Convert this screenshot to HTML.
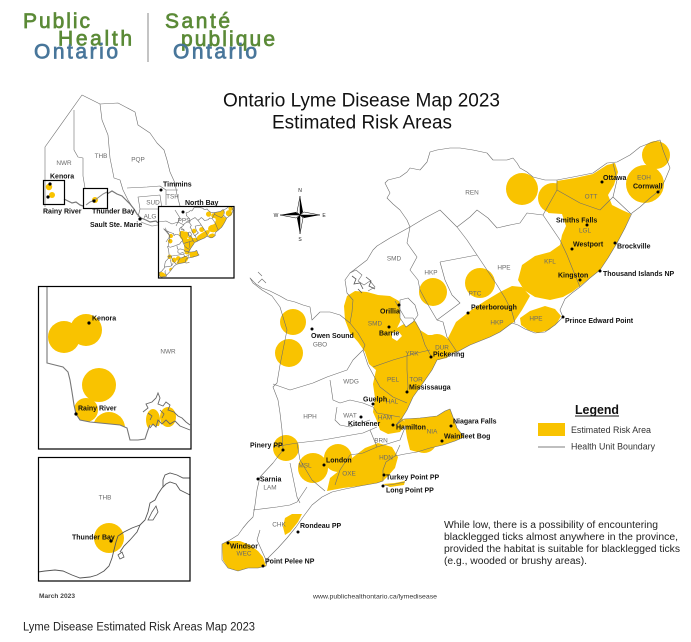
<!DOCTYPE html>
<html>
<head>
<meta charset="utf-8">
<style>
  html,body{margin:0;padding:0;background:#fff;}
  svg{display:block;}
  text{font-family:"Liberation Sans", Arial, sans-serif;}
  .city{font-size:7px;font-weight:bold;fill:#111;}
  .hu{font-size:6.4px;fill:#6a6a6a;text-anchor:middle;}
  .ln{fill:none;stroke:#6e6e6e;stroke-width:0.6;vector-effect:non-scaling-stroke;stroke-linejoin:round;}
  .y{fill:#F9C300;}
</style>
</head>
<body>
<svg width="691" height="642" viewBox="0 0 691 642" xmlns="http://www.w3.org/2000/svg">
<rect width="691" height="642" fill="#fff"/>
<defs>
  <clipPath id="boxclip"><rect x="158" y="206" width="76" height="72"/></clipPath>
  <g id="geo">
    <g class="y">
      <circle cx="522" cy="189" r="16"/>
      <circle cx="553" cy="198" r="15"/>
      <path d="M557,181 L575,178 L593,174 L607,165 L615,163 L618,172 L614,185 L608,195 L612,205 L622,210 L631,214 L625,228 L617,243 L608,258 L600,270 L590,278 L580,286 L572,292 L563,297 L550,300 L535,297 L524,290 L518,280 L522,265 L535,256 L550,252 L560,245 L562,235 L566,226 L562,214 L548,213 Z"/>
      <circle cx="656" cy="155" r="14"/>
      <circle cx="645" cy="184" r="19"/>
      <path d="M520,318 L530,311 L545,306 L555,309 L561,316 L557,323 L549,330 L538,333 L528,330 L521,325 Z"/>
      <path d="M449,353 L448,338 L456,322 L470,311 L485,301 L500,292 L512,286 L522,287 L530,296 L522,310 L514,322 L500,332 L490,337 L470,345 L457,352 Z"/>
      <circle cx="433" cy="292" r="14"/>
      <circle cx="480" cy="283" r="15"/>
      <path d="M347,296 L355,291 L367,292 L378,295 L390,296 L399,301 L403,311 L400,322 L397,328 L404,324 L410,318 L416,322 L420,330 L428,335 L440,335 L450,340 L453,350 L447,358 L437,360 L432,370 L423,383 L413,397 L407,410 L402,418 L406,424 L400,432 L388,434 L380,430 L377,421 L373,412 L375,398 L373,384 L376,370 L369,364 L365,352 L358,342 L350,333 L345,320 L344,306 Z"/>
      <circle cx="437" cy="347" r="13"/>
      <circle cx="385" cy="312" r="15"/>
      <circle cx="381" cy="350" r="14"/>
      <path d="M404,419 L420,418 L437,416 L445,411 L450,409 L453,417 L457,428 L464,437 L455,441 L443,445 L430,448 L417,452 L410,450 L407,438 Z"/>
      <circle cx="424" cy="440" r="13"/>
      <circle cx="313" cy="468" r="15"/>
      <circle cx="338" cy="458" r="14"/>
      <path d="M327,491 L330,478 L340,470 L352,458 L365,448 L378,443 L392,447 L398,457 L395,468 L388,476 L383,481 L377,483 L360,486 L343,488 Z"/>
      <circle cx="286" cy="448" r="13"/>
      <circle cx="293" cy="322" r="13"/>
      <circle cx="289" cy="353" r="14"/>
      <path d="M283,527 L285,518 L292,514 L302,514 L298,522 L290,532 L285,535 Z"/>
      <path d="M222,544 L228,541 L240,541 L250,545 L258,551 L263,557 L266,566 L258,568 L248,568 L238,571 L228,568 L223,560 Z"/>
      <path d="M383,484 L395,483 L405,481 L404,485 L390,487 Z"/>
    </g>
    <path d="M400,300 L408,298 L415,305 L418,315 L413,322 L406,327 L400,318 Z" class="ln" style="fill:#fff"/>
    <path d="M392,333 L398,331 L402,336 L397,341 L392,338 Z" fill="#fff"/>
    <path class="ln" d="M410,227 L390,238 L377,246 L373,250 L367,260 L350,273 L345,280 L347,293 L353,300 L352,312 L350,323 L340,315 L330,312 L320,312 L317,315 L312,320 L310,307 L303,305 L295,302 L287,300 L280,296 L270,291 L262,288 L256,284 L250,278 L253,283 L262,290 L272,296 L280,307 L287,330 L283,350 L280,365 L277,383 L273,387 L278,400 L280,413 L282,430 L283,450 L273,463 L260,477 L257,490 L255,505 L253,517 L248,522 L243,528 L238,535 L230,540 L222,544 L222,560 L228,568 L238,571 L248,568 L258,568 L266,566 L268,558 L278,548 L287,538 L296,527 L303,517 L312,505 L322,497 L332,492 L345,489 L360,486 L377,483 L383,481 L383,470 L386,462 L395,456 L405,454 L417,452 L430,448 L443,445 L455,441 L464,437 L457,428 L453,417 L450,409 L445,411 L437,416 L420,418 L404,419 L396,425 L402,418 L407,410 L413,397 L423,383 L432,370 L437,360 L447,357 L457,352 L470,345 L490,337 L500,332 L512,323 L518,325 L525,329 L535,333 L545,332 L555,325 L563,317 L560,310 L565,299 L572,293 L580,287 L590,278 L600,270 L608,258 L617,243 L625,228 L632,213 L640,207 L650,198 L660,190 L665,180 L670,168 L663,150 L660,140 L650,143 L640,147 L630,155 L617,162 L607,163 L593,173 L573,177 L557,180 L545,180 L533,177 L527,172 L520,168 L517,163 L513,158 L507,160 L493,160 L487,153 L473,150 L460,148 L450,148 L437,150 L430,152 L427,162 L420,170 L410,168 L407,172 L400,177 L388,180 L385,183 L390,193 L387,198 L393,204 L400,210 L407,220 L410,227"/>
    <path class="ln" d="M383,486 L395,484 L405,482"/>
    <path class="ln" d="M350,273 L356,270 L362,275 L358,281 L364,285 L370,281 L375,287 L368,291"/>
    <path d="M352,276 L356,279 L354,284 L360,283 L363,289 M366,277 L371,281 L369,286 L375,289 M358,289 L362,293" fill="none" stroke="#555" stroke-width="0.8"/>
    <path class="ln" d="M258,283 L262,279 L266,283 M262,276 L258,272"/>
    <path class="ln" d="M410,227 L425,218 L440,210 L457,227 L470,217 L477,210 L488,218 L497,228 L510,225 L520,223 L527,213 L543,215 L557,190 L557,180"/>
    <path class="ln" d="M410,227 L407,243 L417,257 L410,270 L418,280 L420,290 L427,303 L437,320 L443,322 L447,337 L457,352"/>
    <path class="ln" d="M457,227 L467,240 L477,255 L487,270 L497,285 L505,298 L512,312 L515,323"/>
    <path class="ln" d="M440,262 L477,255"/>
    <path class="ln" d="M440,262 L445,280 L452,295 L460,303 L437,320"/>
    <path class="ln" d="M543,215 L560,240 L567,255 L573,270 L580,287"/>
    <path class="ln" d="M557,190 L580,203 L600,210 L613,197 L631,214"/>
    <path class="ln" d="M613,163 L617,180 L613,197"/>
    <path class="ln" d="M395,301 L405,318 L413,318 L420,330 L425,345 L432,358"/>
    <path class="ln" d="M373,367 L393,360 L417,353 L430,350"/>
    <path class="ln" d="M407,355 L407,370 L408,387 L407,393"/>
    <path class="ln" d="M380,387 L393,397 L407,403"/>
    <path class="ln" d="M377,413 L400,417"/>
    <path class="ln" d="M350,323 L358,333 L365,345 L363,350"/>
    <path class="ln" d="M273,384 L290,390 L313,383 L327,377 L347,370 L353,360 L363,350"/>
    <path class="ln" d="M330,380 L333,400 L340,403 L350,400 L363,403 L373,407 L377,413"/>
    <path class="ln" d="M337,407 L335,420 L340,425 L350,427 L370,420"/>
    <path class="ln" d="M363,350 L368,365 L375,378 L380,387"/>
    <path class="ln" d="M323,440 L340,437 L363,433 L377,427"/>
    <path class="ln" d="M370,430 L377,447 L363,453 L350,455"/>
    <path class="ln" d="M377,447 L400,440 L404,430"/>
    <path class="ln" d="M273,447 L297,443 L323,440"/>
    <path class="ln" d="M290,463 L297,497 L300,503"/>
    <path class="ln" d="M297,443 L300,460 L312,480 L325,491"/>
    <path class="ln" d="M350,455 L340,470 L335,485"/>
    <path class="ln" d="M253,510 L277,507 L290,505 L297,502 L307,487"/>
    <path class="ln" d="M260,530 L257,540 L266,560"/>
    <path class="ln" d="M395,456 L400,445"/>
  </g>
</defs>

<!-- LOGO -->
<g>
  <text x="23" y="28" font-size="21" fill="#5b8a37" stroke="#5b8a37" stroke-width="0.7" textLength="67" lengthAdjust="spacing">Public</text>
  <text x="58" y="45.5" font-size="21" fill="#5b8a37" stroke="#5b8a37" stroke-width="0.7" textLength="74" lengthAdjust="spacing">Health</text>
  <text x="34" y="58.3" font-size="21" fill="#48769a" stroke="#48769a" stroke-width="0.7" textLength="84" lengthAdjust="spacing">Ontario</text>
  <line x1="148" y1="13" x2="148" y2="62" stroke="#888" stroke-width="1"/>
  <text x="165" y="28" font-size="21" fill="#5b8a37" stroke="#5b8a37" stroke-width="0.7" textLength="65" lengthAdjust="spacing">Santé</text>
  <text x="181" y="46" font-size="21" fill="#5b8a37" stroke="#5b8a37" stroke-width="0.7" textLength="94" lengthAdjust="spacing">publique</text>
  <text x="173" y="58.3" font-size="21" fill="#48769a" stroke="#48769a" stroke-width="0.7" textLength="84" lengthAdjust="spacing">Ontario</text>
</g>

<!-- TITLE -->
<text x="361.5" y="106.7" font-size="19" text-anchor="middle" fill="#111" textLength="277" lengthAdjust="spacingAndGlyphs">Ontario Lyme Disease Map 2023</text>
<text x="362" y="128.3" font-size="19" text-anchor="middle" fill="#111" textLength="180" lengthAdjust="spacingAndGlyphs">Estimated Risk Areas</text>

<!-- OVERVIEW MAP -->
<g>
  <path class="ln" d="M45,207 L45,147 L82,95 L100,104 L118,103 L135,112 L138,125 L150,133 L157,143 L164,150 L167,160 L170,172 L175,183 L177,195 L180,206"/>
  <path class="ln" d="M74,110 L74,150 L78,157 L83,158 L83,176 L85,188"/>
  <path class="ln" d="M100,104 L102,120 L108,135 L110,158 L114,178 L120,180 L123,190 L128,200 L133,208"/>
  <path class="ln" d="M127,188 L147,187 L160,186 L166,190 L178,190"/>
  <path class="ln" d="M138,197 L160,195 L162,209 L140,209 Z"/>
  <path class="ln" d="M166,190 L166,205 M140,209 L138,217"/>
  <path d="M64,199 L68,201 L72,203 L76,202 L80,205 L83,206" fill="none" stroke="#777" stroke-width="1.2"/>
  <path d="M107,194 L112,191 L117,194 L122,196 L126,200 L130,204 L134,209 L137,214 L141,218 L146,220 L150,222 L156,221 L158,223" fill="none" stroke="#777" stroke-width="1.2"/>
  <path d="M141,222 L146,224 L152,226 L158,225" fill="none" stroke="#999" stroke-width="0.8"/>
  <circle cx="49" cy="187" r="3.2" class="y"/>
  <circle cx="52" cy="195" r="3" class="y"/>
  <circle cx="95" cy="200" r="3" class="y"/>
  <path d="M86,205 L90,202 L95,200 L99,197 L103,194 L107,192" fill="none" stroke="#888" stroke-width="1"/>
  <rect x="43.5" y="180.5" width="21" height="24" fill="none" stroke="#000" stroke-width="1.2"/>
  <rect x="83.5" y="188.5" width="24" height="20" fill="none" stroke="#000" stroke-width="1.2"/>
  <circle cx="50" cy="184" r="1.6" fill="#000"/>
  <circle cx="48" cy="197" r="1.6" fill="#000"/>
  <circle cx="94" cy="201" r="1.6" fill="#000"/>
  <circle cx="161" cy="190" r="1.5" fill="#000"/>
  <circle cx="140" cy="219" r="1.6" fill="#000"/>
  <rect x="158" y="206" width="76" height="72" fill="#fff"/>
  <g clip-path="url(#boxclip)">
    <use href="#geo" transform="translate(122.5,182.9) scale(0.165)"/>
    <path class="ln" d="M158,222 L166,221 L172,224 L178,222 L184,225 M175,210 L180,218 L176,226 M165,230 L170,236 L166,242"/>
  </g>
  <circle cx="183" cy="212" r="1.5" fill="#000"/>
  <rect x="158.5" y="206.5" width="75.5" height="71.5" fill="none" stroke="#000" stroke-width="1.2"/>
  <text class="hu" x="64" y="165">NWR</text>
  <text class="hu" x="101" y="158">THB</text>
  <text class="hu" x="138" y="161.5">PQP</text>
  <text class="hu" x="153" y="204.5">SUD</text>
  <text class="hu" x="172.5" y="198.5">TSH</text>
  <text class="hu" x="150" y="218.5">ALG</text>
  <text class="hu" x="184" y="222.5">PPS</text>
  <text class="city" x="50" y="178.5">Kenora</text>
  <text class="city" x="163" y="186.5">Timmins</text>
  <text class="city" x="185" y="205">North Bay</text>
  <text class="city" x="43" y="213.5">Rainy River</text>
  <text class="city" x="92" y="213.5">Thunder Bay</text>
  <text class="city" x="90" y="226.8">Sault Ste. Marie</text>
</g>

<!-- KENORA / RAINY RIVER INSET -->
<g>
  <circle cx="64" cy="337" r="16" class="y"/>
  <circle cx="86" cy="330" r="16" class="y"/>
  <circle cx="99" cy="385" r="17" class="y"/>
  <circle cx="86" cy="410" r="12" class="y"/>
  <circle cx="109" cy="428" r="16" class="y"/>
  <ellipse cx="153" cy="420" rx="7" ry="11" class="y"/>
  <ellipse cx="168" cy="417" rx="8" ry="10" class="y"/>
  <path d="M38,286 L47,286 L47,363 L55,365 L63,367 L68,372 L70,380 L72,392 L74,405 L76,414 L80,420 L90,422 L100,423 L110,424 L120,425 L127,428 L130,440 L138,440 L145,439 L148,430 L150,425 L191,430 L191,449 L38,449 Z" fill="#fff"/>
  <path d="M47,286 L47,363 L55,365 L63,367 L68,372 L70,380 L72,392 L74,405 L76,414 L80,420 L90,422 L100,423 L110,424 L120,425 L127,428 L130,440 L138,440 L145,439 L148,430 L150,425" fill="none" stroke="#777" stroke-width="1.1"/>
  <path d="M143,412 L148,408 L146,404 L152,402 L156,398 L158,393 L160,398 L158,404 L163,406 L166,402 L170,405 L168,410 L174,412 L178,416 L182,418 L186,422 L190,425" fill="none" stroke="#666" stroke-width="0.9"/>
  <path d="M150,428 L153,424 L156,427 L158,420 L162,424 L166,420 L170,424 L175,421 L180,426 L185,428 L190,430" fill="none" stroke="#666" stroke-width="0.9"/>
  <path d="M148,413 L152,416 L150,420 M160,410 L164,414 L162,418" fill="none" stroke="#666" stroke-width="0.8"/>
  <rect x="38.5" y="286.5" width="152.5" height="162.5" fill="none" stroke="#000" stroke-width="1.2"/>
  <circle cx="89" cy="323" r="1.6" fill="#000"/>
  <circle cx="76" cy="414" r="1.6" fill="#000"/>
  <text class="city" x="92" y="320.5">Kenora</text>
  <text class="city" x="78" y="410.5">Rainy River</text>
  <text class="hu" x="168" y="353.5">NWR</text>
</g>

<!-- THUNDER BAY INSET -->
<g>
  <circle cx="109" cy="538" r="15" class="y"/>
  <path d="M38,572 L45,571 L55,570 L63,571 L72,575 L80,578 L90,577 L97,575 L104,571 L109,566 L112,558 L114,550 L116,542 L118,536 L124,532 L132,528 L140,525 L137,532 L130,540 L124,546 L120,552" fill="none" stroke="#555" stroke-width="0.9"/>
  <path d="M140,525 L145,520 L148,512 L150,503 L155,500 L158,494 L162,488 L166,484 L170,482 L176,484 L180,490 L186,493 L190,495" fill="none" stroke="#555" stroke-width="0.9"/>
  <path d="M163,487 L163,480 L165,475 L170,473 L177,475 L183,478 L190,478" fill="none" stroke="#555" stroke-width="0.9"/>
  <path d="M148,520 L152,512 L156,506 L158,512 L153,520 Z M118,555 L122,552 L124,557 L120,559 Z" fill="none" stroke="#555" stroke-width="0.8"/>
  <rect x="38.5" y="457.5" width="151.5" height="123.5" fill="none" stroke="#000" stroke-width="1.2"/>
  <circle cx="111" cy="541" r="1.6" fill="#000"/>
  <text class="hu" x="105" y="499.5">THB</text>
  <text class="city" x="72" y="539.5">Thunder Bay</text>
</g>

<!-- MAIN MAP -->
<use href="#geo"/>

<!-- compass -->
<g>
  <polygon points="300,196 303,212 300,215" fill="#000"/>
  <polygon points="300,196 297,212 300,215" fill="#fff" stroke="#000" stroke-width="0.5"/>
  <polygon points="300,234 297,218 300,215" fill="#000"/>
  <polygon points="300,234 303,218 300,215" fill="#fff" stroke="#000" stroke-width="0.5"/>
  <polygon points="320,215 304,218 300,215" fill="#000"/>
  <polygon points="320,215 304,212 300,215" fill="#fff" stroke="#000" stroke-width="0.5"/>
  <polygon points="280,215 296,212 300,215" fill="#000"/>
  <polygon points="280,215 296,218 300,215" fill="#fff" stroke="#000" stroke-width="0.5"/>
  <text x="300" y="192" font-size="5" text-anchor="middle" fill="#222">N</text>
  <text x="300" y="241" font-size="5" text-anchor="middle" fill="#222">S</text>
  <text x="276" y="217" font-size="5" text-anchor="middle" fill="#222">W</text>
  <text x="324" y="217" font-size="5" text-anchor="middle" fill="#222">E</text>
</g>

<!-- HU labels -->
<g>
  <text class="hu" x="472" y="194.5">REN</text>
  <text class="hu" x="591" y="198.3">OTT</text>
  <text class="hu" x="644" y="179.3">EOH</text>
  <text class="hu" x="585" y="232.5">LGL</text>
  <text class="hu" x="550" y="263.3">KFL</text>
  <text class="hu" x="504" y="269.3">HPE</text>
  <text class="hu" x="431" y="274.3">HKP</text>
  <text class="hu" x="475" y="295.5">PTC</text>
  <text class="hu" x="394" y="260.5">SMD</text>
  <text class="hu" x="375" y="325.5">SMD</text>
  <text class="hu" x="497" y="324.3">HKP</text>
  <text class="hu" x="536" y="320.5">HPE</text>
  <text class="hu" x="442" y="349.3">DUR</text>
  <text class="hu" x="412" y="355.5">YRK</text>
  <text class="hu" x="393" y="381.5">PEL</text>
  <text class="hu" x="416" y="381.5">TOR</text>
  <text class="hu" x="392" y="403.5">HAL</text>
  <text class="hu" x="320" y="346.5">GBO</text>
  <text class="hu" x="351" y="383.5">WDG</text>
  <text class="hu" x="310" y="418.5">HPH</text>
  <text class="hu" x="350" y="417.5">WAT</text>
  <text class="hu" x="385" y="419.3">HAM</text>
  <text class="hu" x="381" y="442.5">BRN</text>
  <text class="hu" x="432" y="433.5">NIA</text>
  <text class="hu" x="305" y="467.5">MSL</text>
  <text class="hu" x="349" y="475.5">OXE</text>
  <text class="hu" x="386" y="459.5">HDN</text>
  <text class="hu" x="270" y="489.5">LAM</text>
  <text class="hu" x="279" y="526.5">CHK</text>
  <text class="hu" x="244" y="555.5">WEC</text>
</g>

<!-- city dots -->
<g fill="#000">
  <circle cx="602" cy="182" r="1.5"/><circle cx="658" cy="192" r="1.5"/>
  <circle cx="587" cy="225" r="1.5"/><circle cx="572" cy="249" r="1.5"/>
  <circle cx="615" cy="243" r="1.5"/><circle cx="580" cy="280" r="1.5"/>
  <circle cx="600" cy="271" r="1.5"/><circle cx="468" cy="313" r="1.5"/>
  <circle cx="563" cy="317" r="1.5"/><circle cx="399" cy="305" r="1.5"/>
  <circle cx="389" cy="327" r="1.5"/><circle cx="312" cy="329" r="1.5"/>
  <circle cx="431" cy="357" r="1.5"/><circle cx="407" cy="392" r="1.5"/>
  <circle cx="373" cy="404" r="1.5"/><circle cx="361" cy="417" r="1.5"/>
  <circle cx="393" cy="425" r="1.5"/><circle cx="451" cy="426" r="1.5"/>
  <circle cx="442" cy="441" r="1.5"/><circle cx="283" cy="450" r="1.5"/>
  <circle cx="324" cy="465" r="1.5"/><circle cx="384" cy="475" r="1.5"/>
  <circle cx="383" cy="486" r="1.5"/><circle cx="258" cy="479" r="1.5"/>
  <circle cx="298" cy="532" r="1.5"/><circle cx="228" cy="543" r="1.5"/>
  <circle cx="263" cy="566" r="1.5"/>
</g>

<!-- city labels -->
<g>
  <text class="city" x="603" y="180">Ottawa</text>
  <text class="city" x="633" y="188.5">Cornwall</text>
  <text class="city" x="556" y="222.5">Smiths Falls</text>
  <text class="city" x="573" y="246.5">Westport</text>
  <text class="city" x="617" y="248.5">Brockville</text>
  <text class="city" x="558" y="277.5">Kingston</text>
  <text class="city" x="603" y="276">Thousand Islands NP</text>
  <text class="city" x="471" y="309.5">Peterborough</text>
  <text class="city" x="565" y="323.2">Prince Edward Point</text>
  <text class="city" x="380" y="313.5">Orillia</text>
  <text class="city" x="379" y="335.5">Barrie</text>
  <text class="city" x="311" y="338.2">Owen Sound</text>
  <text class="city" x="433" y="356.5">Pickering</text>
  <text class="city" x="409" y="389.5">Mississauga</text>
  <text class="city" x="363" y="401.5">Guelph</text>
  <text class="city" x="348" y="425.8">Kitchener</text>
  <text class="city" x="396" y="429.5">Hamilton</text>
  <text class="city" x="453" y="423.5">Niagara Falls</text>
  <text class="city" x="444" y="438.5">Wainfleet Bog</text>
  <text class="city" x="250" y="447.5">Pinery PP</text>
  <text class="city" x="326" y="462.5">London</text>
  <text class="city" x="386" y="479.5">Turkey Point PP</text>
  <text class="city" x="386" y="492.5">Long Point PP</text>
  <text class="city" x="260" y="481.5">Sarnia</text>
  <text class="city" x="300" y="528.2">Rondeau PP</text>
  <text class="city" x="230" y="548.5">Windsor</text>
  <text class="city" x="265" y="563.5">Point Pelee NP</text>
</g>

<!-- LEGEND -->
<g>
  <text x="575" y="414" font-size="12.5" font-weight="bold" fill="#111" textLength="44" lengthAdjust="spacingAndGlyphs">Legend</text>
  <line x1="575" y1="416" x2="619" y2="416" stroke="#111" stroke-width="1"/>
  <rect x="538" y="423" width="27" height="13" class="y"/>
  <text x="571" y="433" font-size="8.8" fill="#333" textLength="80" lengthAdjust="spacingAndGlyphs">Estimated Risk Area</text>
  <line x1="538" y1="447" x2="565" y2="447" stroke="#555" stroke-width="0.8"/>
  <text x="571" y="449.5" font-size="8.8" fill="#333" textLength="84" lengthAdjust="spacingAndGlyphs">Health Unit Boundary</text>
</g>

<!-- NOTE -->
<g font-size="10" fill="#222">
  <text x="444" y="528" textLength="214" lengthAdjust="spacingAndGlyphs">While low, there is a possibility of encountering</text>
  <text x="444" y="540" textLength="234" lengthAdjust="spacingAndGlyphs">blacklegged ticks almost anywhere in the province,</text>
  <text x="444" y="552" textLength="236" lengthAdjust="spacingAndGlyphs">provided the habitat is suitable for blacklegged ticks</text>
  <text x="444" y="564" textLength="143" lengthAdjust="spacingAndGlyphs">(e.g., wooded or brushy areas).</text>
</g>

<!-- FOOTER -->
<text x="39" y="598" font-size="6.5" font-weight="bold" fill="#444" textLength="36" lengthAdjust="spacingAndGlyphs">March 2023</text>
<text x="313" y="598.5" font-size="6.5" fill="#333" textLength="124" lengthAdjust="spacingAndGlyphs">www.publichealthontario.ca/lymedisease</text>
<text x="23" y="630.5" font-size="11.5" fill="#222" textLength="232" lengthAdjust="spacingAndGlyphs">Lyme Disease Estimated Risk Areas Map 2023</text>
</svg>
</body>
</html>
